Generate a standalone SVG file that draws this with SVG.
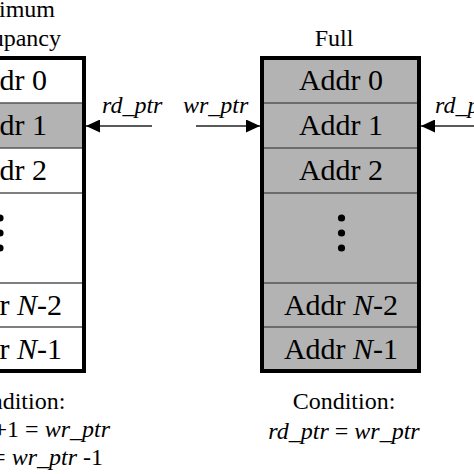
<svg xmlns="http://www.w3.org/2000/svg" width="474" height="474" viewBox="0 0 474 474">
<style>
.t{font-family:"Liberation Serif","Times New Roman",serif;fill:#000}
.cell{font-size:30px;text-anchor:middle}
.lbl{font-size:24px}
.it{font-style:italic}
.g{fill:#b3b3b3}
.w{fill:#fff}
.sep{stroke:#555;stroke-width:1.6}
.border{fill:none;stroke:#000;stroke-width:4}
.arr{stroke:#222;stroke-width:1.6;fill:none}
</style>
<defs>
<marker id="ah" markerUnits="userSpaceOnUse" markerWidth="15" markerHeight="13" refX="14" refY="6.5" orient="auto">
<path d="M0,0 L14,6.5 L0,13 z" fill="#000"/>
</marker>
</defs>
<rect width="474" height="474" fill="#fff"/>

<g id="minimum-occupancy">
<rect class="w" x="-74" y="58" width="158" height="313"/>
<rect class="g" x="-74" y="103" width="158" height="45"/>
<line class="sep" x1="-74" y1="103" x2="84" y2="103"/>
<line class="sep" x1="-74" y1="148" x2="84" y2="148"/>
<line class="sep" x1="-74" y1="193" x2="84" y2="193"/>
<line class="sep" x1="-74" y1="283" x2="84" y2="283"/>
<line class="sep" x1="-74" y1="327" x2="84" y2="327"/>
<rect class="border" x="-74" y="58" width="158" height="313"/>
<text class="t cell" x="5" y="90">Addr 0</text>
<text class="t cell" x="5" y="135">Addr 1</text>
<text class="t cell" x="5" y="180">Addr 2</text>
<circle cx="0" cy="218" r="3.6"/>
<circle cx="0" cy="233" r="3.6"/>
<circle cx="0" cy="248" r="3.6"/>
<text class="t cell" x="5" y="315">Addr <tspan class="it">N</tspan>-2</text>
<text class="t cell" x="5" y="359">Addr <tspan class="it">N</tspan>-1</text>
<text class="t lbl" x="7" y="17" text-anchor="middle">Minimum</text>
<text class="t lbl" x="7" y="46" text-anchor="middle">Occupancy</text>
<text class="t lbl" x="14" y="409" text-anchor="middle">Condition:</text>
<text class="t lbl" x="110" y="437" text-anchor="end"><tspan class="it">rd_ptr</tspan> +1 = <tspan class="it">wr_ptr</tspan></text>
<text class="t lbl" x="103" y="465" text-anchor="end"><tspan class="it">rd_ptr</tspan> = <tspan class="it">wr_ptr</tspan> -1</text>
</g>

<g id="full">
<rect class="g" x="262" y="58" width="157" height="313"/>
<line class="sep" x1="262" y1="103" x2="419" y2="103"/>
<line class="sep" x1="262" y1="148" x2="419" y2="148"/>
<line class="sep" x1="262" y1="193" x2="419" y2="193"/>
<line class="sep" x1="262" y1="283" x2="419" y2="283"/>
<line class="sep" x1="262" y1="327" x2="419" y2="327"/>
<rect class="border" x="262" y="58" width="157" height="313"/>
<text class="t cell" x="341" y="90">Addr 0</text>
<text class="t cell" x="341" y="135">Addr 1</text>
<text class="t cell" x="341" y="180">Addr 2</text>
<circle cx="341.5" cy="218" r="3.6"/>
<circle cx="341.5" cy="233" r="3.6"/>
<circle cx="341.5" cy="248" r="3.6"/>
<text class="t cell" x="341" y="315">Addr <tspan class="it">N</tspan>-2</text>
<text class="t cell" x="341" y="359">Addr <tspan class="it">N</tspan>-1</text>
<text class="t lbl" x="334" y="46" text-anchor="middle">Full</text>
<text class="t lbl" x="344" y="409" text-anchor="middle">Condition:</text>
<text class="t lbl" x="344" y="439" text-anchor="middle"><tspan class="it">rd_ptr</tspan> = <tspan class="it">wr_ptr</tspan></text>
</g>

<g id="connectors">
<line class="arr" x1="152" y1="126" x2="86" y2="126" marker-end="url(#ah)"/>
<text class="t lbl it" x="102" y="113">rd_ptr</text>
<line class="arr" x1="196" y1="126" x2="260" y2="126" marker-end="url(#ah)"/>
<text class="t lbl it" x="183" y="113">wr_ptr</text>
<line class="arr" x1="480" y1="126" x2="421" y2="126" marker-end="url(#ah)"/>
<text class="t lbl it" x="435" y="113">rd_ptr</text>
</g>
</svg>
